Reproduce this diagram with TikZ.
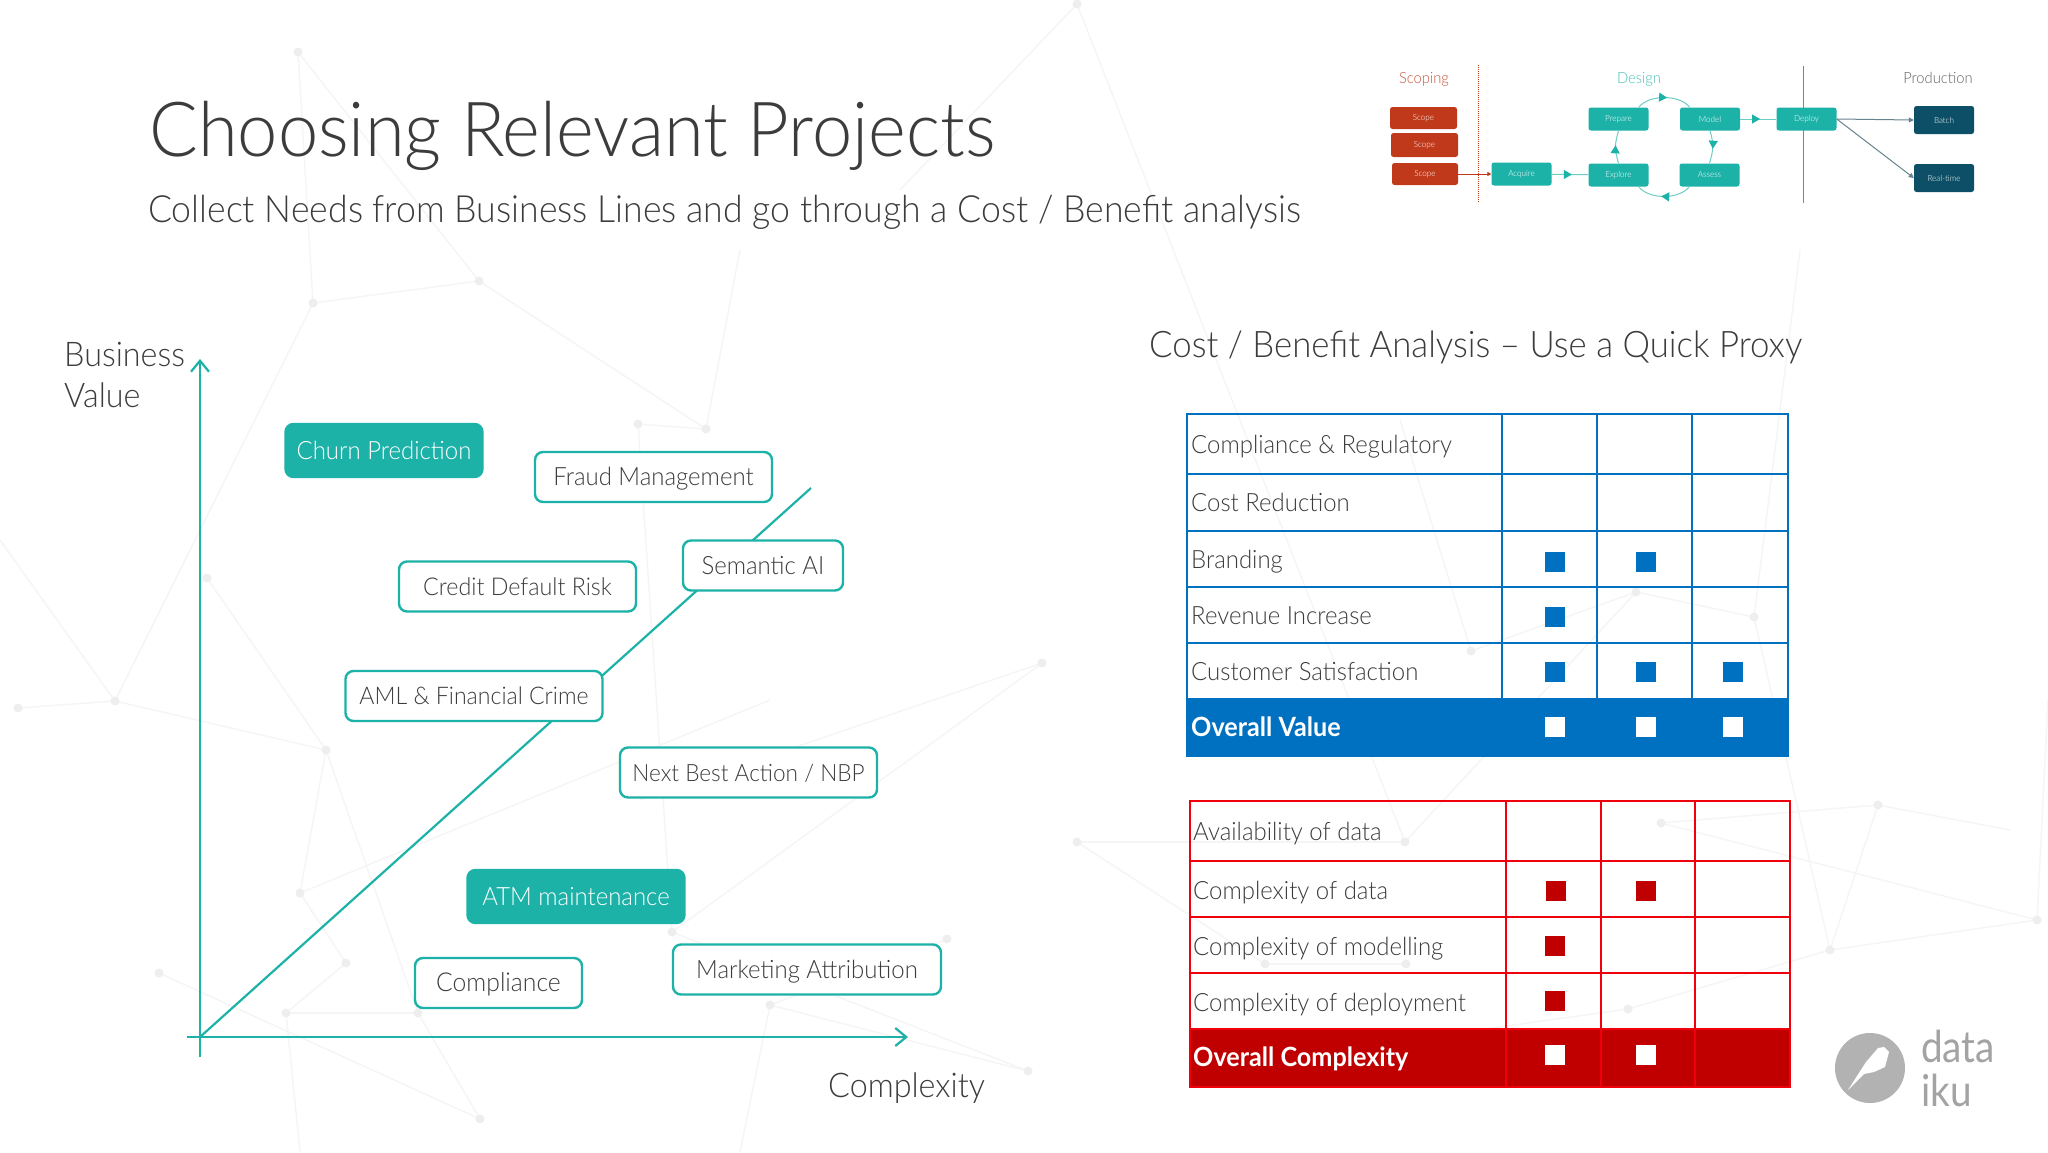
\documentclass[tikz,border=0pt]{standalone}
\usepackage{fontspec}
\setmainfont{Lato Light}[BoldFont={Lato Bold}, FakeStretch=0.95]
\newfontfamily\logofont{Lato}[FakeStretch=0.88]
\usetikzlibrary{positioning}
\usetikzlibrary{arrows.meta}
\usetikzlibrary{decorations.markings}
\definecolor{tealc}{HTML}{1DB2A8}
\definecolor{inkc}{HTML}{3C3C3C}
\definecolor{bluec}{HTML}{0070C0}
\definecolor{darkred}{HTML}{C00000}
\definecolor{brightred}{HTML}{F0000A}
\definecolor{scopec}{HTML}{C0391B}
\definecolor{navyc}{HTML}{0C4F66}
\definecolor{netc}{HTML}{F5F5F6}
\definecolor{dotc}{HTML}{EEEEEF}
\newcommand{\fs}[1]{\fontsize{#1}{#1}\selectfont}
\begin{document}
\begin{tikzpicture}[
                            x=1pt, y=-1pt,
                            txt/.style={anchor=base west, inner sep=0pt, text=inkc},
                            item/.style={draw=tealc, line width=2.4pt, rounded corners=8pt, fill=white, text=inkc, inner sep=0pt,
                                         minimum height=50pt, font=\fs{25.2}, text height=20pt, text depth=3pt},
                            picked/.style={item, fill=tealc, text=white},
                            axis/.style={draw=tealc, line width=2.2pt},
                            cell/.style={inner sep=0pt, minimum size=20pt},
                            mini/.style={rounded corners=2.5pt, inner sep=0pt, minimum width=60pt, minimum height=23pt, font=\fs{8.5}, text=white, fill=tealc},
                            head/.style={inner sep=0pt, font=\fs{15.5}},
                            loopline/.style={draw=tealc!65, line width=1pt, postaction={decorate},
                                decoration={markings, mark=at position .55 with {\arrow[tealc]{Triangle[length=8pt,width=9pt]}}}}
                            ]
                            \useasboundingbox (0,0) rectangle (2048,1152);
                            \fill[white] (0,0) rectangle (2048,1152);

                            \foreach \a/\b/\c/\d in {298/52/479/281, 479/281/313/303, 298/52/313/303, 313/303/115/701, 115/701/18/708, 115/701/326/750,
                                    326/750/300/893, 300/893/346/963, 346/963/286/1013, 286/1013/418/1013, 418/1013/480/1119, 300/893/770/700,
                                    326/750/418/1013, 207/578/326/750, 0/540/115/701, 638/424/706/429, 638/424/672/932, 706/429/740/250,
                                    706/429/479/281, 1042/663/672/932, 1042/663/640/800, 672/932/1028/1071, 770/1005/947/939, 770/1005/1028/1071,
                                    770/1005/740/1152, 1077/4/1405/842, 1077/842/1405/842, 1077/842/1265/964, 1265/964/1406/964, 1405/842/1636/592,
                                    1636/592/1754/617, 1754/617/1830/950, 1471/651/1636/592, 1661/823/1878/805, 1661/823/2037/920, 1878/805/1830/950,
                                    1830/950/2037/920, 1628/1009/1406/1040, 1628/1009/1830/950, 286/1013/300/1152, 480/1119/159/973, 2037/920/2048/700,
                                    1077/4/900/190, 1471/651/1400/420, 1754/617/1800/250, 1878/805/2010/830}
                                \draw[netc, line width=1.4pt] (\a,\b) -- (\c,\d);
                            \foreach \a/\b in {298/52, 479/281, 313/303, 115/701, 18/708, 326/750, 300/893, 346/963, 286/1013, 418/1013, 480/1119,
                                    207/578, 638/424, 706/429, 672/932, 1042/663, 1028/1071, 770/1005, 947/939, 1077/4, 1405/842, 1077/842,
                                    1265/964, 1406/964, 1636/592, 1754/617, 1471/651, 1661/823, 1878/805, 1830/950, 2037/920, 1628/1009, 159/973}
                                \fill[dotc] (\a,\b) circle (4.5pt);

                            \node[txt, font=\fs{76}] (title) at (149,156) {Choosing Relevant Projects};
                            \node[txt, font=\fs{37.5}] (subtitle) at (148,222) {Collect Needs from Business Lines and go through a Cost / Benefit analysis};

                            \coordinate (orig) at (200,1037);
                            \coordinate (ybot) at (200,1057);
                            \coordinate (ytop) at (200,359);
                            \coordinate (xbot) at (187,1037);
                            \coordinate (xtop) at (908,1037);
                            \coordinate (diag) at (811,488);
                            \draw[axis, -{Straight Barb[length=11pt,width=18pt]}] (ybot) -- (ytop);
                            \draw[axis, -{Straight Barb[length=11pt,width=18pt]}] (xbot) -- (xtop);
                            \draw[axis] (orig) -- (diag);

                            \node[picked, minimum width=197pt, minimum height=53pt] (churn)  at (384,450.5) {Churn Prediction};
                            \node[item, minimum width=237pt] (fraud)    at (653.5,477)   {Fraud Management};
                            \node[item, minimum width=160pt] (semantic) at (763,565.5)   {Semantic AI};
                            \node[item, minimum width=237pt, font=\fs{24.5}] (credit) at (517.5,586.5) {Credit Default Risk};
                            \node[item, minimum width=257pt, font=\fs{24.3}] (aml)    at (474,696)     {AML \& Financial Crime};
                            \node[item, minimum width=257pt, font=\fs{23.8}] (nba)    at (748.5,772.5) {Next Best Action / NBP};
                            \node[picked, minimum width=217pt, minimum height=53pt] (atm) at (576,896.5) {ATM maintenance};
                            \node[item, minimum width=167pt, font=\fs{26}] (compl)    at (498.5,983)   {Compliance};
                            \node[item, minimum width=268pt] (market)   at (807,969.5)   {Marketing Attribution};

                            \node[txt, font=\fs{34}] (business) at (64,366) {Business};
                            \node[txt, font=\fs{34}] (value)    at (64,407) {Value};
                            \node[txt, font=\fs{34}] (complex)  at (828,1097) {Complexity};
                            \node[txt, font=\fs{36.6}] (costhead) at (1149,357) {Cost / Benefit Analysis -- Use a Quick Proxy};

                            \draw[bluec, line width=2.4pt] (1187,414) rectangle (1788,756);
                            \foreach \y in {474,531,587,643} \draw[bluec, line width=2.4pt] (1187,\y) -- (1788,\y);
                            \foreach \x in {1502,1597,1692} \draw[bluec, line width=2.4pt] (\x,414) -- (\x,698);
                            \fill[bluec] (1187,698) rectangle (1788,756);
                            \foreach \lab/\t/\y in {v1/Compliance \& Regulatory/453, v2/Cost Reduction/511, v3/Branding/568, v4/Revenue Increase/624, v5/Customer Satisfaction/680}
                                \node[txt, font=\fs{25.2}] (\lab) at (1191,\y) {\t};
                            \node[txt, font=\fs{26.5}\bfseries, text=white] (v6) at (1191,736) {Overall Value};
                            \foreach \x/\y in {1554.5/562, 1645.5/562, 1554.5/617, 1554.5/672, 1645.5/672, 1732.5/672}
                                \node[cell, fill=bluec] at (\x,\y) {};
                            \foreach \x in {1554.5,1645.5,1732.5}
                                \node[cell, fill=white] at (\x,727) {};

                            \fill[darkred] (1190,1029) rectangle (1790,1087);
                            \draw[brightred, line width=2.4pt] (1190,801) rectangle (1790,1087);
                            \foreach \y in {861,917,973,1029} \draw[brightred, line width=2.4pt] (1190,\y) -- (1790,\y);
                            \foreach \x in {1506,1601,1695} \draw[brightred, line width=2.2pt] (\x,801) -- (\x,1087);
                            \foreach \lab/\t/\y in {c1/Availability of data/840, c2/Complexity of data/899, c3/Complexity of modelling/955, c4/Complexity of deployment/1011}
                                \node[txt, font=\fs{25.2}] (\lab) at (1193,\y) {\t};
                            \node[txt, font=\fs{26.5}\bfseries, text=white] (c5) at (1193,1066) {Overall Complexity};
                            \foreach \x/\y in {1556/891, 1646/891, 1554.5/945.5, 1554.5/1000.5}
                                \node[cell, fill=darkred] at (\x,\y) {};
                            \foreach \x in {1554.5,1646}
                                \node[cell, fill=white] at (\x,1055) {};

                            \node[head, text=scopec!85!white] (scoping) at (1424,79) {Scoping};
                            \node[head, text=tealc!80!white]  (design)  at (1639,79) {Design};
                            \node[head, text=inkc!80!white]   (prod)    at (1938,78) {Production};
                            \draw[scopec, densely dotted, line width=1pt] (1478,65) -- (1478,203);
                            \draw[tealc!60!gray, line width=1pt] (1803,66) -- (1803,203);
                            \node[mini, fill=scopec, minimum width=67pt, minimum height=22pt] (s1) at (1423.5,118) {Scope};
                            \node[mini, fill=scopec, minimum width=67pt, minimum height=24pt] (s2) at (1424.5,145) {Scope};
                            \node[mini, fill=scopec, minimum width=66pt, minimum height=22pt] (s3) at (1425,174)   {Scope};
                            \node[mini] (acquire) at (1521.5,174) {Acquire};
                            \node[mini] (explore) at (1618.5,175) {Explore};
                            \node[mini] (prepare) at (1618.5,119) {Prepare};
                            \node[mini] (model)   at (1710,119)   {Model};
                            \node[mini] (assess)  at (1709.5,175) {Assess};
                            \node[mini] (deploy)  at (1806.5,119) {Deploy};
                            \node[mini, fill=navyc, minimum height=28pt] (batch) at (1944,120) {Batch};
                            \node[mini, fill=navyc, minimum height=28pt] (real)  at (1944,178) {Real-time};
                            \draw[scopec, line width=1pt, -{Triangle[length=4pt,width=4pt]}] (s3) -- (acquire);
                            \path[loopline] (acquire) -- (explore);
                            \path[loopline] (model) -- (deploy);
                            \path[loopline] (explore.north) .. controls +(-4,-14) and +(-4,14) .. (prepare.south);
                            \path[loopline] (model.south) .. controls +(4,14) and +(4,-14) .. (assess.north);
                            \path[loopline] (prepare.30) .. controls +(10,-13) and +(-10,-13) .. (model.150);
                            \path[loopline] (assess.210) .. controls +(-10,13) and +(10,13) .. (explore.-30);
                            \draw[navyc!55!gray!80!white, line width=1pt, -{Triangle[length=5pt,width=5pt]}] (deploy.east) -- (batch.west);
                            \draw[navyc!55!gray!80!white, line width=1pt, -{Triangle[length=5pt,width=5pt]}] (deploy.east) -- (real.west);

                            \fill[black!30] (1870,1068) circle (35pt);
                            \fill[white] (1848,1090) -- (1866,1062) -- (1878,1048) -- (1884,1047) -- (1889,1052) -- (1885,1067) -- (1874,1072) -- (1864,1074) -- cycle;
                            \node[inner sep=0pt, font=\logofont\fs{44}, text=black!36, anchor=base west] (data) at (1921,1062) {data};
                            \node[inner sep=0pt, font=\logofont\fs{44}, text=black!36, anchor=base west] (iku) at (1921,1106) {iku};
                        \end{tikzpicture}
\end{document}
